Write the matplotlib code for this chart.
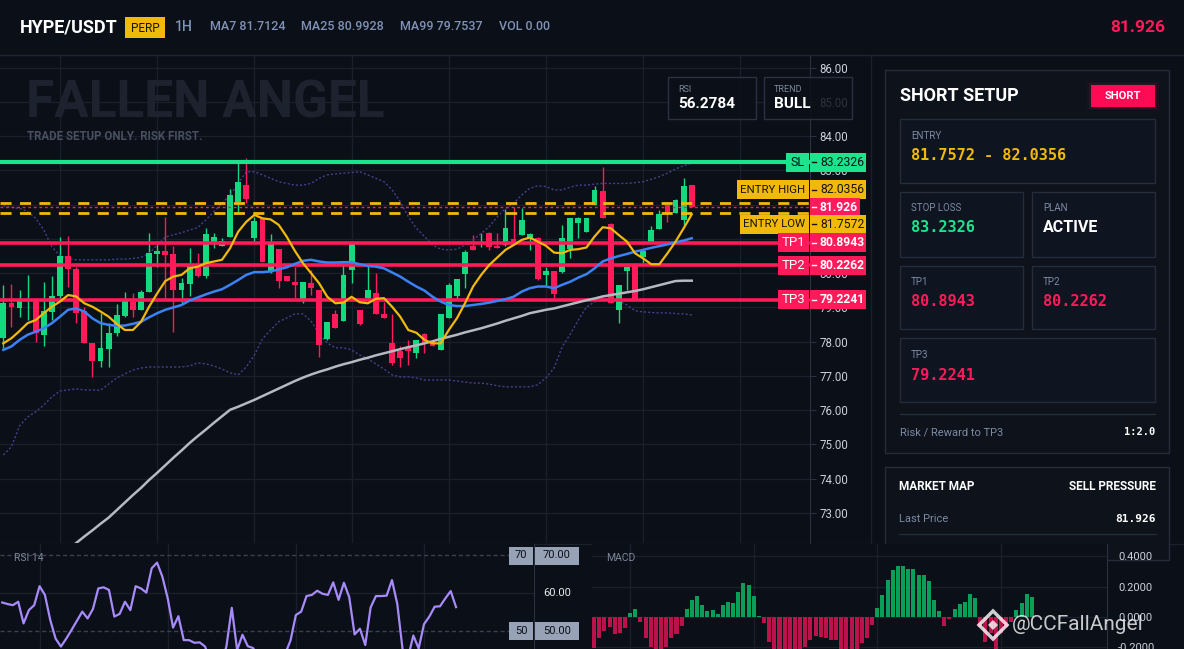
import matplotlib
matplotlib.use("Agg")
import matplotlib.pyplot as plt
from matplotlib.patches import Rectangle, RegularPolygon
from matplotlib.lines import Line2D
from matplotlib.transforms import Affine2D
from matplotlib.colors import to_rgba
import numpy as np

W, H = 1184, 649
plt.rcParams['font.family'] = ['Roboto', 'DejaVu Sans']
MONO = 'DejaVu Sans Mono'

# ---- data ----
opens = [78.12, 79.12, 78.99, 79.19, 79.20, 78.18, 78.87, 79.32, 80.50, 80.12,
         78.88, 77.97, 77.42, 77.79, 78.24, 78.76, 79.17, 78.93, 79.46, 80.57,
         80.65, 80.56, 79.51, 79.69, 80.22, 79.92, 80.89, 80.78, 81.07, 82.09,
         82.58, 81.04, 81.60, 80.03, 80.71, 79.92, 79.75, 79.20, 79.72, 79.51,
         78.08, 78.81, 78.61, 80.09, 78.93, 79.27, 79.41, 78.81, 77.97, 77.73,
         77.81, 77.68, 78.23, 78.00, 77.76, 78.70, 79.34, 79.98, 80.79, 80.87,
         81.18, 80.79, 80.82, 80.99, 81.11, 81.02, 81.04, 79.95, 80.06, 80.03,
         80.71, 81.46, 81.21, 81.99, 82.40, 81.44, 78.93, 80.07, 80.24, 80.48,
         80.89, 81.29, 81.99, 81.75, 81.55, 82.58]
highs = [79.66, 79.68, 79.51, 79.95, 79.20, 79.75, 79.93, 81.05, 81.09, 80.17,
         79.02, 77.97, 78.83, 78.54, 79.10, 79.46, 79.43, 79.51, 81.18, 80.87,
         81.65, 80.79, 79.85, 80.73, 80.58, 81.31, 81.16, 81.02, 82.45, 83.21,
         83.35, 81.65, 81.60, 81.14, 80.71, 79.92, 80.19, 79.75, 80.09, 79.51,
         78.57, 78.93, 80.29, 80.92, 78.93, 80.29, 80.00, 79.17, 78.81, 77.86,
         78.05, 78.05, 78.26, 78.03, 78.81, 79.70, 79.83, 80.68, 81.12, 81.16,
         81.21, 81.16, 81.87, 81.94, 81.91, 81.16, 81.05, 80.19, 80.06, 81.41,
         81.62, 81.65, 81.60, 82.55, 83.11, 81.46, 79.66, 80.17, 80.24, 80.68,
         81.38, 81.83, 81.99, 82.16, 82.77, 82.58]
lows = [77.81, 78.44, 78.73, 78.63, 78.00, 77.86, 78.63, 79.22, 79.59, 78.54,
        77.95, 76.98, 77.27, 77.25, 78.15, 78.73, 78.73, 78.93, 79.46, 80.19,
        79.24, 78.29, 79.12, 79.32, 79.90, 79.85, 80.73, 80.78, 81.07, 81.80,
        82.04, 80.87, 80.34, 80.00, 79.56, 79.78, 79.27, 79.14, 79.36, 77.54,
        78.05, 78.41, 78.61, 79.70, 78.49, 79.24, 78.81, 78.68, 77.32, 77.25,
        77.32, 77.51, 77.68, 77.86, 77.76, 78.70, 79.24, 79.56, 80.68, 80.75,
        80.68, 80.72, 80.80, 80.82, 81.11, 80.68, 79.80, 79.63, 79.26, 80.00,
        80.45, 81.02, 81.19, 81.99, 81.62, 79.12, 78.54, 79.51, 79.25, 80.29,
        80.87, 81.29, 81.50, 81.75, 81.41, 81.92]
closes = [79.12, 79.00, 79.22, 79.20, 78.26, 78.88, 79.33, 80.50, 80.11, 78.83,
          77.95, 77.42, 77.82, 78.26, 78.78, 79.22, 78.93, 79.45, 80.58, 80.65,
          80.53, 79.51, 79.70, 80.21, 79.92, 81.14, 81.05, 80.94, 82.28, 82.66,
          82.17, 81.52, 80.34, 80.90, 79.78, 79.78, 79.66, 79.73, 79.58, 77.90,
          78.57, 78.41, 79.95, 80.89, 78.52, 79.51, 78.81, 78.70, 77.39, 77.53,
          77.73, 78.05, 77.95, 77.86, 78.81, 79.66, 79.83, 80.63, 80.68, 80.92,
          80.75, 80.72, 81.31, 80.89, 81.55, 81.14, 79.83, 80.06, 79.39, 81.04,
          81.60, 81.60, 81.60, 82.43, 81.62, 79.14, 79.66, 80.17, 79.25, 80.65,
          81.26, 81.72, 81.75, 82.14, 82.55, 81.926]

ma7 = [77.95, 78.10, 78.31, 78.54, 78.63, 78.83, 79.02, 79.17, 79.36, 79.32,
       79.12, 79.02, 78.88, 78.73, 78.52, 78.34, 78.34, 78.58, 79.02, 79.41,
       79.77, 79.90, 79.95, 80.14, 80.19, 80.29, 80.34, 80.39, 80.73, 81.21,
       81.50, 81.70, 81.60, 81.57, 81.41, 81.06, 80.65, 80.29, 80.00, 79.70,
       79.31, 79.12, 79.14, 79.31, 79.15, 79.12, 79.25, 79.27, 79.02, 78.73,
       78.34, 78.26, 78.05, 77.95, 77.95, 78.34, 78.68, 79.12, 79.61, 79.95,
       80.24, 80.46, 80.68, 80.82, 80.97, 81.04, 80.92, 80.80, 80.60, 80.58,
       80.68, 80.70, 80.75, 81.07, 81.34, 81.31, 81.11, 80.92, 80.58, 80.43,
       80.26, 80.26, 80.58, 80.92, 81.31, 81.72]
ma25 = [77.76, 77.86, 78.05, 78.20, 78.29, 78.39, 78.54, 78.73, 78.93, 78.97,
        78.88, 78.68, 78.54, 78.49, 78.46, 78.47, 78.52, 78.58, 78.71, 78.83,
        78.93, 79.00, 79.07, 79.20, 79.29, 79.38, 79.46, 79.53, 79.66, 79.80,
        79.95, 80.03, 80.03, 80.05, 80.11, 80.17, 80.27, 80.36, 80.39, 80.34,
        80.31, 80.31, 80.32, 80.32, 80.26, 80.21, 80.19, 80.14, 80.02, 79.90,
        79.75, 79.61, 79.49, 79.31, 79.17, 79.07, 79.04, 79.04, 79.07, 79.10,
        79.14, 79.19, 79.24, 79.31, 79.46, 79.56, 79.61, 79.61, 79.56, 79.66,
        79.75, 79.87, 79.97, 80.14, 80.34, 80.43, 80.50, 80.56, 80.63, 80.68,
        80.74, 80.79, 80.84, 80.90, 80.95, 81.02]
ma99_start = 8
ma99 = [71.94, 72.12, 72.31, 72.49, 72.68, 72.86, 73.08, 73.30, 73.52, 73.73,
        73.96, 74.17, 74.39, 74.61, 74.82, 75.04, 75.24, 75.43, 75.63, 75.82,
        76.01, 76.10, 76.20, 76.30, 76.41, 76.52, 76.63, 76.74, 76.85, 76.95,
        77.04, 77.12, 77.19, 77.27, 77.34, 77.40, 77.47, 77.53, 77.60, 77.66,
        77.72, 77.78, 77.84, 77.89, 77.95, 78.01, 78.08, 78.14, 78.20, 78.27,
        78.33, 78.39, 78.46, 78.53, 78.61, 78.68, 78.75, 78.83, 78.88, 78.93,
        78.97, 79.03, 79.09, 79.15, 79.21, 79.26, 79.32, 79.36, 79.40, 79.44,
        79.48, 79.53, 79.59, 79.65, 79.71, 79.77, 79.78, 79.78]
bb_upper = [81.96, 81.92, 81.89, 81.80, 81.60, 81.26, 80.77, 80.50, 80.43, 80.39,
            80.39, 80.39, 80.39, 80.39, 80.41, 80.41, 80.43, 80.46, 80.58, 80.82,
            81.05, 81.12, 81.18, 81.26, 81.33, 81.55, 81.80, 82.04, 82.28, 82.62,
            82.96, 82.96, 82.87, 82.77, 82.67, 82.62, 82.57, 82.57, 82.62, 82.77,
            82.87, 82.90, 82.92, 82.94, 82.96, 82.87, 82.77, 82.67, 82.43, 82.09,
            81.65, 81.31, 81.07, 80.82, 80.70, 80.68, 80.70, 80.82, 80.97, 81.16,
            81.36, 81.65, 81.89, 82.04, 82.28, 82.48, 82.55, 82.53, 82.43, 82.43,
            82.51, 82.57, 82.57, 82.60, 82.62, 82.62, 82.62, 82.62, 82.64, 82.67,
            82.74, 82.82, 82.92, 83.04, 83.14, 83.21]
bb_lower = [74.69, 74.93, 75.54, 75.80, 75.95, 76.15, 76.39, 76.56, 76.59, 76.62,
            76.59, 76.59, 76.58, 76.76, 76.94, 77.06, 77.17, 77.23, 77.26, 77.26,
            77.26, 77.26, 77.26, 77.29, 77.38, 77.35, 77.29, 77.20, 77.09, 77.03,
            77.26, 77.61, 78.08, 78.34, 78.58, 78.69, 78.81, 78.81, 78.60, 78.22,
            77.96, 77.82, 77.82, 77.76, 77.61, 77.50, 77.35, 77.20, 77.03, 76.97,
            76.97, 76.94, 76.88, 76.88, 76.88, 76.88, 76.85, 76.82, 76.79, 76.79,
            76.76, 76.71, 76.68, 76.68, 76.68, 76.68, 76.74, 76.94, 77.23, 77.85,
            78.22, 78.63, 79.01, 79.16, 79.28, 79.25, 79.19, 79.07, 78.90, 78.87,
            78.85, 78.84, 78.84, 78.82, 78.81, 78.78]
rsi = [57.5, 57.1, 56.8, 57.7, 52.0, 55.5, 56.8, 61.8, 59.5, 52.9,
       48.0, 45.9, 48.0, 50.3, 52.7, 55.1, 53.3, 55.8, 61.2, 61.5,
       60.8, 53.8, 54.5, 57.7, 55.5, 61.8, 61.2, 60.1, 66.5, 68.0,
       64.3, 58.6, 50.9, 53.9, 47.6, 47.6, 46.9, 47.0, 45.9, 42.0,
       38.0, 41.0, 46.0, 56.1, 45.0, 49.0, 46.0, 45.5, 43.0, 40.0,
       38.0, 40.0, 42.0, 44.0, 47.5, 54.2, 55.1, 59.2, 59.5, 60.6,
       59.8, 59.5, 62.8, 58.2, 62.7, 58.9, 49.1, 50.6, 46.3, 56.2,
       59.2, 59.2, 59.3, 63.4, 57.1, 45.0, 43.0, 48.8, 45.4, 51.8,
       53.8, 56.4, 56.5, 58.6, 60.5, 56.28]
macd_hist = [-0.21, -0.144, -0.093, -0.071, -0.118, -0.107, -0.073, 0.022, 0.049, -0.033,
             -0.144, -0.204, -0.23, -0.23, -0.204, -0.140, -0.116, -0.060, 0.049, 0.111,
             0.138, 0.078, 0.040, 0.044, 0.018, 0.078, 0.100, 0.093, 0.167, 0.227,
             0.211, 0.138, 0.004, -0.040, -0.167, -0.23, -0.25, -0.25, -0.25, -0.25,
             -0.23, -0.20, -0.156, -0.129, -0.133, -0.144, -0.156, -0.156, -0.23, -0.25,
             -0.25, -0.23, -0.178, -0.144, -0.056, 0.056, 0.144, 0.244, 0.307, 0.338,
             0.338, 0.316, 0.316, 0.278, 0.278, 0.238, 0.111, 0.038, -0.060, -0.016,
             0.049, 0.084, 0.098, 0.151, 0.122, -0.071, -0.167, -0.111, -0.23, -0.111,
             -0.067, -0.033, 0.044, 0.093, 0.151, 0.133]

sl = 83.2326
entry_high = 82.0356
entry_low = 81.7572
last_price = 81.926
tp1, tp2, tp3 = 80.8943, 80.2262, 79.2241
price_ticks = list(range(73, 87))
hidden_ticks = [81, 82]     # fully under the price tags
macd_ticks = [0.4, 0.2, 0.0, -0.2]

# ---- colours ----
BG = '#0b0f17'
GRID = '#1a202b'
AXIS = '#2a3140'
UP = '#14d97f'
DOWN = '#ff1a5a'
YEL = '#f0b90b'
SLG = '#1fe38c'
MUTED = '#7c879b'

fig = plt.figure(figsize=(W / 100, H / 100), dpi=100, facecolor=BG)
PIX = Affine2D().scale(1, -1).translate(0, H)   # top-left pixel coords


def axrect(x0, y0, x1, y1):
    return [x0 / W, 1 - y1 / H, (x1 - x0) / W, (y1 - y0) / H]


def box(x0, y0, x1, y1, fc, ec='none', lw=1.0, z=2):
    fig.add_artist(Rectangle((x0, y0), x1 - x0, y1 - y0, transform=PIX,
                             facecolor=fc, edgecolor=ec, lw=lw, zorder=z))


def line(x0, y0, x1, y1, color, lw=1.0, z=2):
    fig.add_artist(Line2D([x0, x1], [y0, y1], transform=PIX, color=color, lw=lw, zorder=z))


def txt(x, y, s, size=9, color='white', ha='left', weight='normal', family=None, z=6, **kw):
    opts = dict(transform=PIX, fontsize=size, color=color, ha=ha, va='center',
                fontweight=weight, zorder=z)
    if family:
        opts['family'] = family
    opts.update(kw)
    fig.text(x, y, s, **opts)


idx = np.arange(len(closes))
XLIM = (-0.41, 99.6)

# ---- main price chart ----
ax = fig.add_axes(axrect(0, 55, 810, 543))
ax.set_facecolor(BG)
ax.set_xlim(*XLIM)
ax.set_ylim(72.12, 86.37)
ax.set_axisbelow(True)
ax.set_xticks([7, 19, 31, 43, 55, 67, 79, 91])
ax.set_yticks(price_ticks)
ax.set_yticklabels(['' if t in hidden_ticks else f'{t:.2f}' for t in price_ticks])
ax.yaxis.tick_right()
ax.tick_params(axis='x', length=0, labelbottom=False)
ax.tick_params(axis='y', length=4, color=AXIS, labelcolor='#c9d1dc', labelsize=8.3, pad=3)
ax.grid(True, color=GRID, lw=1)
for s in ['top', 'left', 'bottom']:
    ax.spines[s].set_visible(False)
ax.spines['right'].set_color(AXIS)

o = np.array(opens); c = np.array(closes)
cols = [UP if cc >= oo else DOWN for oo, cc in zip(o, c)]
ax.vlines(idx, lows, highs, colors=cols, lw=1, zorder=2)
bot = np.minimum(o, c)
hgt = np.maximum(np.abs(c - o), 0.03)
ax.bar(idx, hgt, bottom=bot, width=0.72, color=cols, lw=0, zorder=2.5)

ax.plot(idx, bb_upper, color='#4a3d8c', lw=1, ls=(0, (1.5, 1.5)), zorder=2)
ax.plot(idx, bb_lower, color='#4a3d8c', lw=1, ls=(0, (1.5, 1.5)), zorder=2)

ax.axhline(sl, color=SLG, lw=3, zorder=3)
for tp in (tp1, tp2, tp3):
    ax.axhline(tp, color=DOWN, lw=2.6, zorder=3)
ax.axhline(entry_high, color=YEL, lw=2, ls=(0, (4, 3)), zorder=3)
ax.axhline(entry_low, color=YEL, lw=2, ls=(0, (4, 3)), zorder=3)
ax.axhline(last_price, color=DOWN, lw=1, ls=(0, (2, 2)), zorder=3)

ax.plot(idx[ma99_start:], ma99, color='#b4b9c2', lw=1.8, zorder=4)
ax.plot(idx, ma25, color='#3b82f6', lw=1.8, zorder=4)
ax.plot(idx, ma7, color=YEL, lw=1.6, zorder=4)


def py(p):
    return H - ax.transData.transform((0, p))[1]


# ---- price tags ----
def tag(yc, label, value, bg, fg, lx0=None, vx1=866, lsize=8.7):
    if label:
        box(lx0, yc - 9.5, 809, yc + 9.5, bg, z=5)
        txt((lx0 + 809) / 2, yc, label, size=lsize, color=fg, ha='center')
    box(810, yc - 9.5, vx1, yc + 9.5, bg, z=5)
    line(812, yc, 816, yc, fg, lw=1, z=6)
    txt(820, yc, value, size=8.7, color=fg, weight='bold' if fg == 'white' else 'normal')


tag(py(sl), 'SL', f'{sl:.4f}', SLG, '#0b0f17', 786, lsize=9)
tag(py(entry_high) - 13.5, 'ENTRY HIGH', f'{entry_high:.4f}', YEL, '#1a1406', 737, lsize=8.2)
tag(py(last_price), None, f'{last_price:.3f}', DOWN, 'white', vx1=860)
tag(py(entry_low) + 11.5, 'ENTRY LOW', f'{entry_low:.4f}', YEL, '#1a1406', 740, lsize=8.2)
for name, v in (('TP1', tp1), ('TP2', tp2), ('TP3', tp3)):
    tag(py(v), name, f'{v:.4f}', DOWN, 'white', 778, lsize=9.5)

# ---- watermark texts / info boxes on chart ----
txt(26, 103, 'FALLEN ANGEL', size=37, color='#1d232e', weight='bold', z=1)
txt(27, 137, 'TRADE SETUP ONLY. RISK FIRST.', size=8.3, color='#474f60', weight='bold', z=1)
box(668, 77, 756, 119, to_rgba(BG, 0.82), ec=AXIS, z=5)
box(764, 77, 852, 119, to_rgba(BG, 0.82), ec=AXIS, z=5)
txt(678, 89, 'RSI', size=6.5, color=MUTED)
txt(678, 104, '56.2784', size=11, weight='bold')
txt(774, 89, 'TREND', size=6.5, color=MUTED)
txt(774, 104, 'BULL', size=11, weight='bold')

# ---- header ----
line(0, 55, W, 55, '#1e2533', lw=1)
line(871, 55, 871, 543, GRID, lw=1)
txt(20, 27, 'HYPE/USDT', size=13, weight='bold')
box(125, 17, 165, 38, YEL, z=3)
txt(145, 28, 'PERP', size=8.5, color='#1a1406', ha='center')
txt(175, 27, '1H', size=10, color='#7f93b8', weight='medium')
for x, s in ((210, 'MA7 81.7124'), (301, 'MA25 80.9928'), (400, 'MA99 79.7537'), (499, 'VOL 0.00')):
    txt(x, 27, s, size=9, color='#7f93b8', weight='medium')
txt(1165, 28, '81.926', size=12.5, color=DOWN, ha='right', weight='bold')

# ---- right panel ----
CARD = '#0d121b'
CEDGE = '#252c3a'
LBL = '#7d8aa3'
box(885, 70, 1169, 453, CARD, ec=CEDGE, z=2)
txt(900, 96, 'SHORT SETUP', size=13, weight='bold')
box(1087, 82, 1159, 110, to_rgba(DOWN, 0.05), z=2)
box(1089, 83, 1157, 109, to_rgba(DOWN, 0.07), z=2)
box(1091, 85, 1155, 107, '#ff0a54', z=3)
txt(1123, 96, 'SHORT', size=8, weight='bold', ha='center')
for x0, y0, x1, y1 in ((900, 119, 1155, 183), (900, 192, 1023, 257), (1032, 192, 1155, 257),
                       (900, 266, 1023, 329), (1032, 266, 1155, 329), (900, 338, 1155, 402)):
    box(x0, y0, x1, y1, '#0e1420', ec=CEDGE, z=3)
txt(911, 136, 'ENTRY', size=7, color=LBL)
txt(911, 156, f'{entry_low:.4f} - {entry_high:.4f}', size=11, color=YEL, weight='bold', family=MONO)
txt(911, 208, 'STOP LOSS', size=7, color=LBL)
txt(911, 228, f'{sl:.4f}', size=11, color=SLG, weight='bold', family=MONO)
txt(1043, 208, 'PLAN', size=7, color=LBL)
txt(1043, 228, 'ACTIVE', size=11.5, weight='bold')
txt(911, 282, 'TP1', size=7, color=LBL)
txt(911, 302, f'{tp1:.4f}', size=11, color=DOWN, weight='bold', family=MONO)
txt(1043, 282, 'TP2', size=7, color=LBL)
txt(1043, 302, f'{tp2:.4f}', size=11, color=DOWN, weight='bold', family=MONO)
txt(911, 355, 'TP3', size=7, color=LBL)
txt(911, 375, f'{tp3:.4f}', size=11, color=DOWN, weight='bold', family=MONO)
line(900, 414, 1155, 414, CEDGE, lw=1, z=3)
txt(900, 432, 'Risk / Reward to TP3', size=8, color=LBL)
txt(1155, 432, '1:2.0', size=7.5, weight='bold', ha='right', family=MONO)

box(885, 467, 1169, 560, CARD, ec=CEDGE, z=2)
txt(899, 486, 'MARKET MAP', size=8.5, weight='bold')
txt(1156, 486, 'SELL PRESSURE', size=8.5, weight='bold', ha='right')
txt(899, 519, 'Last Price', size=8, color=LBL)
txt(1156, 519, f'{last_price:.3f}', size=8, weight='bold', ha='right', family=MONO)
line(899, 534, 1156, 534, CEDGE, lw=1, z=3)

# ---- lower panels background ----
box(0, 544, W, H, BG, z=1.5)
line(0, 544, W, 544, GRID, lw=1, z=1.6)

# ---- RSI panel ----
axr = fig.add_axes(axrect(0, 544, 534, 649))
axr.set_zorder(2)
axr.set_facecolor(BG)
axr.set_xlim(*XLIM)
axr.set_ylim(45.26, 72.9)
axr.set_xticks([7, 31, 55, 79])
axr.set_yticks([60])
axr.grid(True, color=GRID, lw=1)
axr.set_axisbelow(True)
axr.tick_params(length=0, labelbottom=False, labelleft=False)
for s in ['top', 'left', 'bottom']:
    axr.spines[s].set_visible(False)
axr.spines['right'].set_color(AXIS)
axr.axhline(70, color='#3a4150', lw=1, ls=(0, (3, 2)))
axr.axhline(50, color='#3a4150', lw=1, ls=(0, (3, 2)))
axr.plot(idx, rsi, color='#a78bfa', lw=1.6)

txt(14, 558, 'RSI 14', size=7.5, color=MUTED)
for yc, lv in ((555.5, 70), (631, 50)):
    box(509, yc - 9, 533, yc + 9, '#97a2b6', z=5)
    box(535, yc - 9, 579, yc + 9, '#97a2b6', z=5)
    txt(521, yc, str(lv), size=8, color='#0b0f17', ha='center')
    txt(557, yc, f'{lv:.2f}', size=8, color='#0b0f17', ha='center')
txt(543, 593, '60.00', size=8, color='#e6eaf0')

# ---- MACD panel ----
axm = fig.add_axes(axrect(592, 544, 1107, 649))
axm.set_zorder(2)
axm.set_facecolor(BG)
axm.set_xlim(*XLIM)
axm.set_ylim(-0.215, 0.483)
axm.set_xticks([7, 31, 55, 79])
axm.set_yticks(macd_ticks)
axm.set_yticklabels([f'{t:.4f}' for t in macd_ticks])
axm.yaxis.tick_right()
axm.grid(True, color=GRID, lw=1)
axm.set_axisbelow(True)
axm.tick_params(axis='x', length=0, labelbottom=False)
axm.tick_params(axis='y', length=0, labelcolor='#c9d1dc', labelsize=8, pad=8)
for s in ['top', 'left', 'bottom']:
    axm.spines[s].set_visible(False)
axm.spines['right'].set_color(AXIS)
mcols = ['#0a9e58' if v >= 0 else '#b8134b' for v in macd_hist]
axm.bar(idx, macd_hist, width=0.78, color=mcols, lw=0)
txt(606, 558, 'MACD', size=7.5, color=MUTED)

# ---- watermark ----
fig.add_artist(RegularPolygon((993, 625), 4, radius=14, orientation=0, transform=PIX,
                              facecolor='none', edgecolor=(1, 1, 1, 0.8), lw=2.5, zorder=7))
fig.add_artist(RegularPolygon((993, 625), 4, radius=5, orientation=0, transform=PIX,
                              facecolor=(1, 1, 1, 0.8), edgecolor='none', zorder=7))
txt(1012, 625, '@CCFallAngel', size=15, color=(1, 1, 1, 0.78), z=7)

fig.savefig('out.png', dpi=100, facecolor=BG)
